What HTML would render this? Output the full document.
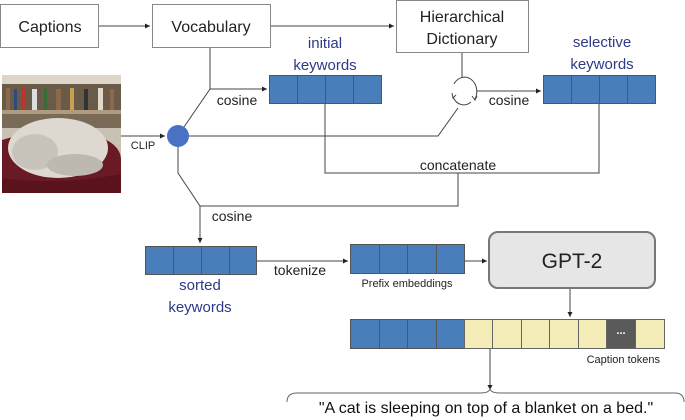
<!DOCTYPE html>
<html><head><style>
body{margin:0;background:#fff;}
svg{display:block;font-family:"Liberation Sans",sans-serif;}
</style></head><body>
<svg width="685" height="420" viewBox="0 0 685 420" xmlns="http://www.w3.org/2000/svg">
<defs>
<marker id="a" markerWidth="6" markerHeight="6" refX="5" refY="3" orient="auto"><path d="M0,0.5 L5,3 L0,5.5z" fill="#222"/></marker>
</defs>
<g fill="#fff" stroke="#888" stroke-width="1">
<rect x="0.5" y="4.5" width="98" height="43"/>
<rect x="152.5" y="4.5" width="118" height="43"/>
<rect x="396.5" y="0.5" width="132" height="52"/>
</g>
<g font-size="16" fill="#222" text-anchor="middle">
<text x="50" y="32">Captions</text>
<text x="211" y="32">Vocabulary</text>
<text x="462" y="22">Hierarchical</text>
<text x="462" y="44">Dictionary</text>
</g>
<g stroke="#444" stroke-width="1" fill="none">
<line x1="99" y1="26" x2="150" y2="26" marker-end="url(#a)"/>
<line x1="271" y1="26" x2="394" y2="26" marker-end="url(#a)"/>
<polyline points="210,48 210,89 267,89" marker-end="url(#a)"/>
<line x1="210" y1="89" x2="184" y2="127"/>
<line x1="121" y1="136" x2="165" y2="136" marker-end="url(#a)"/>
<polyline points="189,136 438,136 458,108"/>
<line x1="462" y1="53" x2="462" y2="78"/>
<path d="M454,84 A12,14 0 0 1 475,99" />
<path d="M471,102 A12,14 0 0 1 453,97" />
<path d="M472,96 l3,4 l2,-4" />
<path d="M452,93 l1,5 l3,-3" />
<line x1="477" y1="91" x2="541" y2="91" marker-end="url(#a)"/>
<polyline points="325,103 325,173 599,173 599,103"/>
<polyline points="458,173 458,206 200,206"/>
<polyline points="178,146 178,173 200,206 200,243" marker-end="url(#a)"/>
<line x1="257" y1="261" x2="348" y2="261" marker-end="url(#a)"/>
<line x1="465" y1="261" x2="487" y2="261" marker-end="url(#a)"/>
<line x1="570" y1="288" x2="570" y2="317" marker-end="url(#a)"/>
<line x1="490" y1="349" x2="490" y2="390" marker-end="url(#a)"/>
<path d="M287,402 Q287,393 297,393 L480,393 Q490,393 490,388 Q490,393 500,393 L675,393 Q684,393 684,402" stroke="#666"/>
</g>
<g fill="#4a7ebb" stroke="#555" stroke-width="1">
<rect x="269.5" y="75.5" width="28" height="28"/><rect x="297.5" y="75.5" width="28" height="28"/><rect x="325.5" y="75.5" width="28" height="28"/><rect x="353.5" y="75.5" width="28" height="28"/>
<rect x="543.5" y="75.5" width="28" height="28"/><rect x="571.5" y="75.5" width="28" height="28"/><rect x="599.5" y="75.5" width="28" height="28"/><rect x="627.5" y="75.5" width="28" height="28"/>
<rect x="145.5" y="246.5" width="28" height="28"/><rect x="173.5" y="246.5" width="28" height="28"/><rect x="201.5" y="246.5" width="28" height="28"/><rect x="229.5" y="246.5" width="27" height="28"/>
<rect x="350.5" y="244.5" width="29" height="29"/><rect x="379.5" y="244.5" width="28" height="29"/><rect x="407.5" y="244.5" width="29" height="29"/><rect x="436.5" y="244.5" width="28" height="29"/>
<rect x="350.5" y="319.5" width="29" height="29"/><rect x="379.5" y="319.5" width="28" height="29"/><rect x="407.5" y="319.5" width="29" height="29"/><rect x="436.5" y="319.5" width="28" height="29"/>
</g>
<g fill="#f5edb8" stroke="#666" stroke-width="1">
<rect x="464.5" y="319.5" width="28" height="29"/><rect x="492.5" y="319.5" width="29" height="29"/><rect x="521.5" y="319.5" width="28" height="29"/><rect x="549.5" y="319.5" width="29" height="29"/><rect x="578.5" y="319.5" width="28" height="29"/>
<rect x="635.5" y="319.5" width="29" height="29"/>
</g>
<rect x="606.5" y="319.5" width="29" height="29" fill="#5a5a5a" stroke="#666"/>
<text x="621" y="334" fill="#fff" font-size="11" text-anchor="middle" font-weight="bold">...</text>
<ellipse cx="178" cy="136" rx="11" ry="11" fill="#4a72c4"/>
<rect x="489" y="232" width="166" height="56" rx="9" fill="#e6e6e6" stroke="#777" stroke-width="2"/>
<text x="572" y="268" font-size="21" text-anchor="middle" fill="#222">GPT-2</text>
<g font-size="15" fill="#2e3a87" text-anchor="middle">
<text x="325" y="48">initial</text><text x="325" y="70">keywords</text>
<text x="602" y="47">selective</text><text x="602" y="69">keywords</text>
<text x="200" y="290">sorted</text><text x="200" y="312">keywords</text>
</g>
<g font-size="14" fill="#222" text-anchor="middle">
<text x="237" y="105">cosine</text>
<text x="509" y="105">cosine</text>
<text x="458" y="170">concatenate</text>
<text x="232" y="221">cosine</text>
<text x="300" y="275">tokenize</text>
</g>
<text x="143" y="149" font-size="11" fill="#222" text-anchor="middle">CLIP</text>
<text x="407" y="287" font-size="11" fill="#222" text-anchor="middle">Prefix embeddings</text>
<text x="660" y="363" font-size="11" fill="#222" text-anchor="end">Caption tokens</text>
<text x="486" y="413" font-size="16" fill="#111" text-anchor="middle">"A cat is sleeping on top of a blanket on a bed."</text>
<g>
<rect x="2" y="75" width="119" height="118" fill="#c9c1b3"/>
<rect x="2" y="75" width="119" height="10" fill="#ddd6c8"/>
<rect x="2" y="84" width="119" height="26" fill="#6a5a48"/>
<g fill="#8a6a4a"><rect x="6" y="88" width="4" height="22"/><rect x="14" y="89" width="3" height="21" fill="#2c4a7a"/><rect x="22" y="88" width="4" height="22" fill="#b33"/><rect x="32" y="89" width="5" height="21" fill="#ddd"/><rect x="44" y="88" width="3" height="22" fill="#3a6a3a"/><rect x="56" y="89" width="5" height="21"/><rect x="70" y="88" width="4" height="22" fill="#c9a050"/><rect x="84" y="89" width="4" height="21" fill="#333"/><rect x="98" y="88" width="5" height="22" fill="#e0d8c8"/><rect x="110" y="89" width="4" height="21"/></g>
<rect x="2" y="110" width="119" height="4" fill="#b09a80"/>
<rect x="2" y="114" width="119" height="14" fill="#7a6a58"/>
<path d="M2,140 Q40,128 90,134 Q121,142 121,160 L121,193 L2,193z" fill="#6a1a24"/>
<ellipse cx="58" cy="148" rx="50" ry="30" fill="#ddd8d0"/>
<ellipse cx="35" cy="152" rx="23" ry="18" fill="#c8c3bb"/>
<ellipse cx="75" cy="165" rx="28" ry="11" fill="#bdb8b0"/>
<path d="M2,178 Q60,186 121,174 L121,193 L2,193z" fill="#5a121c"/>
</g>
</svg>
</body></html>
